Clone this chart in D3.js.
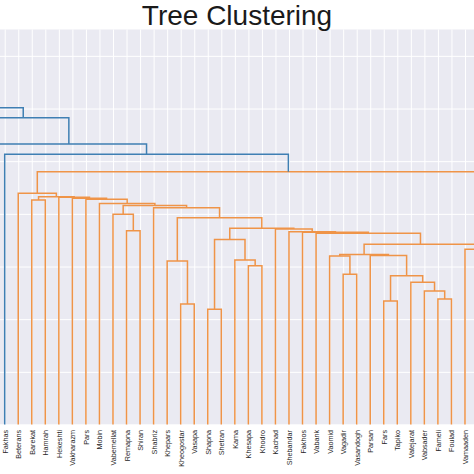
<!DOCTYPE html>
<html>
<head>
<meta charset="utf-8">
<script src="https://cdn.jsdelivr.net/npm/d3@7"></script>
<style>
  body { margin: 0; background: #fff; }
  svg { display: block; font-family: "Liberation Sans", Arial, sans-serif; }
</style>
</head>
<body>
<div id="chart"></div>
<script>
/*
  dendrogram, cropped view
  leaves with "" lie outside the visible crop (left and right of it)
*/

var leaves = ["", "", "",
  "Fakhas", "Beterans", "Barekat", "Hamrah", "Hekeshti", "Vakharazm", "Pars",
  "Mobin", "Vabemellat", "Remapna", "Shiran", "Shabriz", "Khepars", "Kheogostar",
  "Vasapa", "Shapna", "Shetran", "Kama", "Khesapa", "Khodro", "Kachad",
  "Shebandar", "Fakhos", "Vabank", "Vaomid", "Vagadir", "Vasandogh", "Parsan",
  "Fars", "Tapiko", "Vatejarat", "Vabsader", "Fameli", "Foulad", "Vamaaden",
  "", "", "", "", "", "", ""];

// merges: [id, left, right, height]; numbers are leaf indices, strings are merge ids
var merges = [
  ["m1", 35, 36, 2.383],
  ["m2", 34, "m1", 2.535],
  ["m3", 33, "m2", 2.70],
  ["m4", 31, 32, 2.345],
  ["m5", "m4", "m3", 2.825],
  ["m6", 28, 29, 2.852],
  ["m7", 27, "m6", 3.199],
  ["m8", 30, "m5", 3.209],
  ["m9", "m7", "m8", 3.228],
  ["m10", 39, 40, 2.5],
  ["m11", 38, "m10", 3.0],
  ["m12", 37, "m11", 3.326],
  ["m13", "m9", "m12", 3.421],
  ["m14", 26, "m13", 3.63],
  ["m15", 25, "m14", 3.649],
  ["m16", 24, "m15", 3.66],
  ["m17", 23, "m16", 3.712],
  ["m18", 21, 22, 3.015],
  ["m19", 20, "m18", 3.123],
  ["m20", 18, 19, 2.187],
  ["m21", "m20", "m19", 3.512],
  ["m22", "m21", "m17", 3.725],
  ["m23", 16, 17, 2.288],
  ["m24", 15, "m23", 3.104],
  ["m25", "m24", "m22", 3.926],
  ["m26", 14, "m25", 4.116],
  ["m27", 12, 13, 3.68],
  ["m28", 11, "m27", 3.991],
  ["m29", "m28", "m26", 4.158],
  ["m30", 10, "m29", 4.196],
  ["m31", 9, "m30", 4.276],
  ["m32", 8, "m31", 4.295],
  ["m33", 7, "m32", 4.314],
  ["m34", 5, 6, 4.262],
  ["m35", "m34", "m33", 4.325],
  ["m36", 4, "m35", 4.39],
  ["m37", 41, 42, 2.0],
  ["m38", 43, 44, 2.2],
  ["m39", "m37", "m38", 3.5],
  ["m40", "m36", "m39", 4.80],
  ["m41", 3, "m40", 5.13],
  ["m42", 2, "m41", 5.326],
  ["m43", 1, "m42", 5.825],
  ["m44", 0, "m43", 6.015]
];

var yTicks = [0, 1, 2, 3, 4, 5, 6, 7];
var colorThreshold = 5.0;
var title = "Tree Clustering";

var W = 474, H = 474;
var plotTop = 29.5, plotBottom = 424.5;

var svg = d3.select("#chart").append("svg")
  .attr("width", W).attr("height", H);

var x = d3.scaleLinear().domain([3, 37]).range([4.7, 465.0]);
var y = d3.scaleLinear().domain([0, 7.5]).range([plotBottom, plotTop]);

var plotLeft = x(-0.5), plotRight = x(leaves.length - 0.5);

svg.append("rect")
  .attr("x", 0).attr("y", plotTop)
  .attr("width", W).attr("height", plotBottom - plotTop)
  .attr("fill", "#eaeaf2");

// horizontal grid (the y tick labels sit outside the crop, so none drawn)
var gy = svg.append("g")
  .attr("transform", "translate(" + plotLeft + ",0)")
  .call(d3.axisLeft(y).tickValues(yTicks).tickSize(-(plotRight - plotLeft)).tickFormat(""));
gy.select(".domain").remove();
gy.selectAll(".tick line").attr("stroke", "#fff").attr("stroke-width", 1);

// vertical grid + leaf labels
var gx = svg.append("g")
  .attr("transform", "translate(0," + plotBottom + ")")
  .call(d3.axisBottom(x).tickValues(d3.range(leaves.length))
    .tickSize(-(plotBottom - plotTop))
    .tickFormat(function(i){ return leaves[i]; }));
gx.select(".domain").remove();
gx.selectAll(".tick line").attr("stroke", "#fff").attr("stroke-width", 1);
gx.selectAll(".tick text")
  .attr("transform", "rotate(-90)")
  .attr("x", -5.5).attr("y", 0).attr("dy", "0.35em")
  .style("text-anchor", "end")
  .style("font-size", "7.2px")
  .attr("fill", "#262626");

// node positions: x at midpoint of children, y at merge height
var pos = {};
function getpos(c){
  if (typeof c === "number") return {x: x(c), h: 0};
  return pos[c];
}
merges.forEach(function(m){
  var a = getpos(m[1]), b = getpos(m[2]);
  pos[m[0]] = {x: (a.x + b.x) / 2, h: m[3]};
});

svg.append("g").selectAll("path")
  .data(merges)
  .enter()
  .append("path")
  .attr("d", function(m){
    var a = getpos(m[1]), b = getpos(m[2]);
    return "M" + a.x + "," + y(a.h) + "V" + y(m[3]) + "H" + b.x + "V" + y(b.h);
  })
  .attr("fill", "none")
  .attr("stroke", function(m){ return m[3] > colorThreshold ? "#3f7fb3" : "#ef9448"; })
  .attr("stroke-width", 1.5);

svg.append("text")
  .attr("x", 237).attr("y", 25)
  .attr("text-anchor", "middle")
  .style("font-size", "28px")
  .attr("fill", "#1a1a1a")
  .text(title);
</script>
</body>
</html>
